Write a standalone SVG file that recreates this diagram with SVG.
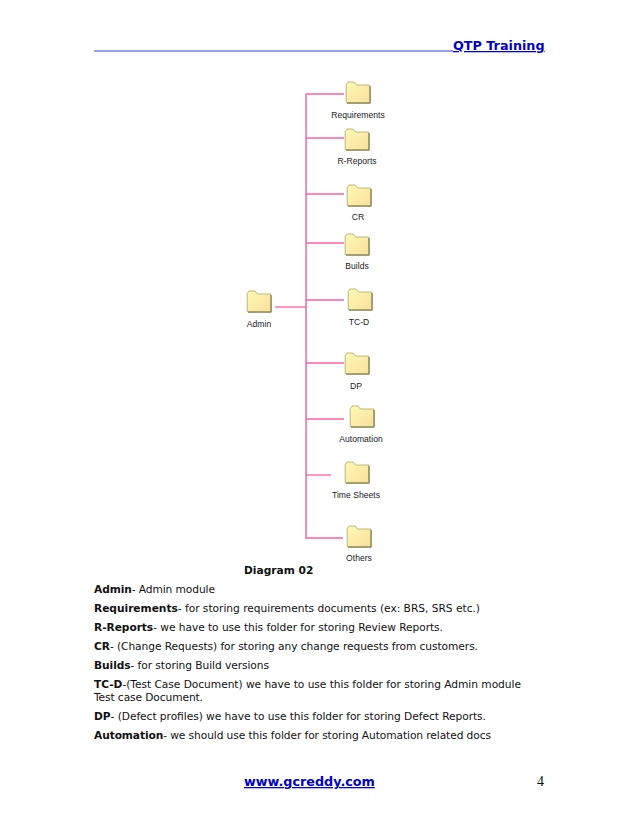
<svg xmlns="http://www.w3.org/2000/svg" width="638" height="826" viewBox="0 0 638 826">
<style>
.c{stroke:#ff5fa0;stroke-width:1.3;fill:none}
.v{stroke:#e884b4;stroke-width:1.8;fill:none}
.l{font:8.6px "Liberation Sans",Arial,sans-serif;fill:#222;text-anchor:middle}
.b{font:10.65px "DejaVu Sans",Verdana,sans-serif;fill:#111}
.s{font-weight:bold}
.h{font:bold 12.75px "DejaVu Sans",Verdana,sans-serif;fill:#0000cc;text-decoration:underline}
</style>
<defs>
<linearGradient id="g" x1="0" y1="0" x2="1" y2="1"><stop offset="0" stop-color="#fff9b4"/><stop offset="1" stop-color="#f9e09c"/></linearGradient>
<symbol id="f" width="26" height="23" viewBox="0 0 26 23" overflow="visible">
<path d="M1.2 21.5V3.5L3 1h6l2.5 3H24.5V21.5Z" fill="url(#g)" stroke="#b5b070" stroke-width="0.9"/>
<path d="M2 22.2H25.2V5" fill="none" stroke="#75713f" stroke-width="1"/>
</symbol>
</defs>
<rect width="638" height="826" fill="#fff"/>
<g id="header">
<line x1="94" y1="51" x2="453" y2="51" stroke="#2a40e0" stroke-width="1"/>
<text class="h" x="453" y="50">QTP Training</text>
</g>
<g id="connectors">
<line class="v" x1="306" y1="94" x2="306" y2="539"/>
<line class="c" x1="306" y1="94" x2="344" y2="94"/>
<line class="c" x1="306" y1="138" x2="344" y2="138"/>
<line class="c" x1="306" y1="194" x2="344" y2="194"/>
<line class="c" x1="306" y1="243" x2="344" y2="243"/>
<line class="c" x1="306" y1="300" x2="344" y2="300"/>
<line class="c" x1="306" y1="363" x2="344" y2="363"/>
<line class="c" x1="306" y1="419" x2="344" y2="419"/>
<line class="c" x1="306" y1="475" x2="331" y2="475"/>
<line class="c" x1="306" y1="538" x2="343" y2="538"/>
<line class="c" x1="275" y1="307" x2="306" y2="307"/>
</g>
<g id="admin"><use href="#f" x="246" y="290"/><text class="l" x="259" y="327">Admin</text></g>
<g id="requirements"><use href="#f" x="345" y="81"/><text class="l" x="358" y="118">Requirements</text></g>
<g id="r-reports"><use href="#f" x="344" y="128"/><text class="l" x="357" y="164">R-Reports</text></g>
<g id="cr"><use href="#f" x="346" y="184"/><text class="l" x="358" y="220">CR</text></g>
<g id="builds"><use href="#f" x="344" y="233"/><text class="l" x="357" y="269">Builds</text></g>
<g id="tc-d"><use href="#f" x="347" y="288"/><text class="l" x="359" y="325">TC-D</text></g>
<g id="dp"><use href="#f" x="344" y="352"/><text class="l" x="356" y="389">DP</text></g>
<g id="automation"><use href="#f" x="349" y="405"/><text class="l" x="361" y="442">Automation</text></g>
<g id="time-sheets"><use href="#f" x="344" y="461"/><text class="l" x="356" y="498">Time Sheets</text></g>
<g id="others"><use href="#f" x="346" y="525"/><text class="l" x="359" y="561">Others</text></g>
<g id="body">
<text class="b s" x="244" y="574">Diagram 02</text>
<text class="b" x="94" y="593" textLength="121"><tspan class="s">Admin</tspan>- Admin module</text>
<text class="b" x="94" y="612" textLength="386"><tspan class="s">Requirements</tspan>- for storing requirements documents (ex: BRS, SRS etc.)</text>
<text class="b" x="94" y="631" textLength="349"><tspan class="s">R-Reports</tspan>- we have to use this folder for storing Review Reports.</text>
<text class="b" x="94" y="650" textLength="384"><tspan class="s">CR</tspan>- (Change Requests) for storing any change requests from customers.</text>
<text class="b" x="94" y="669" textLength="175"><tspan class="s">Builds</tspan>- for storing Build versions</text>
<text class="b" x="94" y="688" textLength="427"><tspan class="s">TC-D</tspan>-(Test Case Document) we have to use this folder for storing Admin module</text>
<text class="b" x="94" y="701" textLength="109">Test case Document.</text>
<text class="b" x="94" y="720" textLength="392"><tspan class="s">DP</tspan>- (Defect profiles) we have to use this folder for storing Defect Reports.</text>
<text class="b" x="94" y="739" textLength="397"><tspan class="s">Automation</tspan>- we should use this folder for storing Automation related docs</text>
</g>
<g id="footer">
<text class="h" x="244" y="786">www.gcreddy.com</text>
<text x="537" y="786" font-family="Liberation Serif,serif" font-size="14" fill="#111">4</text>
</g>
</svg>
